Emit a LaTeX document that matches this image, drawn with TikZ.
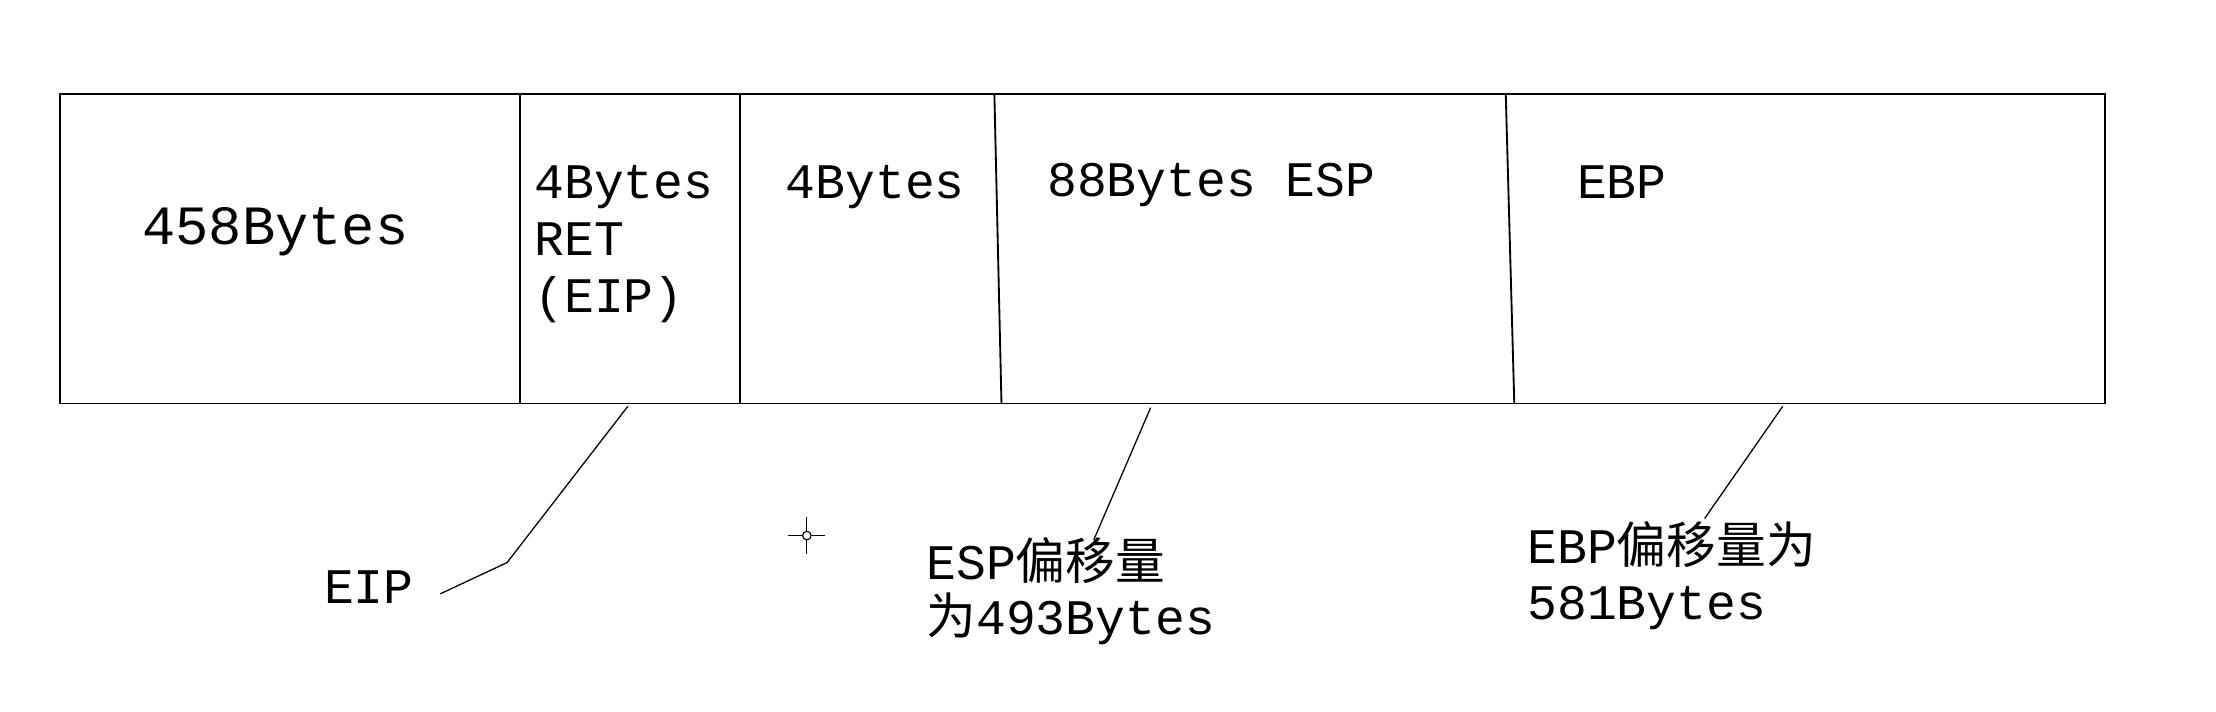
\documentclass[tikz,border=0pt]{standalone}
\usepackage{fontspec}
\usetikzlibrary{calc}
\setmainfont{Liberation Mono}
\newfontfamily\cjk{Noto Sans CJK SC}
\begin{document}
\begin{tikzpicture}[x=1pt,y=-1pt,
  lbl/.style={anchor=base west,inner sep=0pt,font=\fontsize{35}{40}\selectfont},
  ln/.style={line width=1.3pt,black}]
\useasboundingbox (0,0) rectangle (1560,501);
\fill[white] (0,0) rectangle (1560,501);
\draw[ln] (42,66) rectangle (1482,284);
\coordinate (d1t) at (366,66); \coordinate (d1b) at (366,284);
\coordinate (d2t) at (521,66); \coordinate (d2b) at (521,284);
\coordinate (d3t) at (700,66); \coordinate (d3b) at (705,284);
\coordinate (d4t) at (1060,66); \coordinate (d4b) at (1066,284);
\draw[ln] (d1t)--(d1b); \draw[ln] (d2t)--(d2b); \draw[ln] (d3t)--(d3b); \draw[ln] (d4t)--(d4b);
\node[lbl,font=\fontsize{39}{44}\selectfont] (t1) at (100,172) {458Bytes};
\node[lbl] (t2) at (376,140) {4Bytes};
\node[lbl] (t3) at (376,180) {RET};
\node[lbl] (t4) at (376,220) {(EIP)};
\node[lbl] (t5) at (553,140) {4Bytes};
\node[lbl] (t6) at (737,138) {88Bytes ESP};
\node[lbl] (t7) at (1110,140) {EBP};
\node[lbl] (eip) at (228,425) {EIP};
\node[lbl] (esp1) at (652,408) {ESP{\cjk 偏移量}};
\node[lbl] (esp2) at (652,447) {{\cjk 为}493Bytes};
\node[lbl] (ebp1) at (1075,397) {EBP{\cjk 偏移量为}};
\node[lbl] (ebp2) at (1075,436) {581Bytes};
\coordinate (a1) at (442,286); \coordinate (a2) at (357,396); \coordinate (a3) at (310,418);
\draw[line width=0.9pt] (a1)--(a2)--(a3);
\coordinate (b1) at (810,287); \coordinate (b2) at (770,380);
\draw[line width=0.9pt] (b1)--(b2);
\coordinate (c1) at (1255,286); \coordinate (c2) at (1200,365);
\draw[line width=0.9pt] (c1)--(c2);
\coordinate (cur) at (568,377);
\draw[line width=0.8pt] ($(cur)+(-13,0)$) -- ($(cur)+(13,0)$);
\draw[line width=0.8pt] ($(cur)+(0,-13)$) -- ($(cur)+(0,13)$);
\fill[white] (cur) circle (3); \draw[line width=0.8pt] (cur) circle (3);
\end{tikzpicture}
\end{document}
